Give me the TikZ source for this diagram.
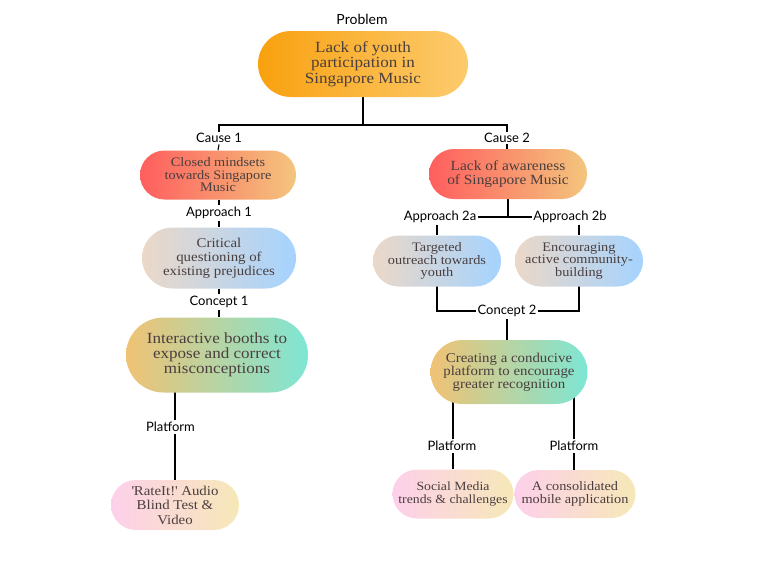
\documentclass[tikz,border=0pt]{standalone}
\usepackage{fontspec}
\setmainfont{Liberation Serif}[FakeStretch=1.1]
\newfontfamily\labfont{Lato}
\usetikzlibrary{backgrounds}
\definecolor{txt}{HTML}{4A3E3E}
\definecolor{orL}{HTML}{F9A10F}\definecolor{orR}{HTML}{FCCB6E}
\definecolor{rdL}{HTML}{FF5E5E}\definecolor{rdR}{HTML}{F3C57D}
\definecolor{blL}{HTML}{EBD8C8}\definecolor{blR}{HTML}{A5D3FF}
\definecolor{tlL}{HTML}{F0C274}\definecolor{tlR}{HTML}{7DE6D4}
\definecolor{pkL}{HTML}{FDD0EA}\definecolor{pkR}{HTML}{F6E8B8}
\tikzset{
  pill/.style={rectangle, inner sep=0pt, align=center, text=txt},
  gorange/.style={left color=orL, right color=orR},
  gred/.style={left color=rdL, right color=rdR},
  gblue/.style={left color=blL, right color=blR},
  gteal/.style={left color=tlL, right color=tlR},
  gpink/.style={left color=pkL, right color=pkR},
  lab/.style={inner sep=1.5pt, font=\labfont\fontsize{13}{15}\selectfont, text=black},
  conn/.style={draw=black, line width=1.1pt},
}
\begin{document}
\begin{tikzpicture}[x=1pt,y=-1pt]
\useasboundingbox (0,0) rectangle (768,576);
% labels
\node[lab, font=\labfont\fontsize{14}{16}\selectfont] (plab0) at (362,19) {Problem};
\node[lab] (c1lab) at (219,138) {Cause 1};
\node[lab] (c2lab) at (507,138) {Cause 2};
\node[lab] (a1lab) at (219,213) {Approach 1};
\node[lab] (a2alab) at (440,217) {Approach 2a};
\node[lab] (a2blab) at (570,217) {Approach 2b};
\node[lab] (k1lab) at (219,302) {Concept 1};
\node[lab] (k2lab) at (507,311) {Concept 2};
\node[lab] (pl1) at (170.5,427) {Platform};
\node[lab] (pl2) at (452,446) {Platform};
\node[lab] (pl3) at (574,446) {Platform};
% boxes
\node[pill, gorange, minimum width=210pt, minimum height=66pt, rounded corners=33pt,
  font=\fontsize{15.5}{15.5}\selectfont] (prob) at (363,64)
  {Lack of youth\\participation in\\Singapore Music};
\node[pill, gred, minimum width=156pt, minimum height=49pt, rounded corners=24.5pt,
  font=\fontsize{13}{12.5}\selectfont] (cause1) at (218,175)
  {Closed mindsets\\towards Singapore\\Music};
\node[pill, gred, minimum width=158pt, minimum height=50pt, rounded corners=25pt,
  font=\fontsize{14}{14}\selectfont] (cause2) at (508,174)
  {Lack of awareness\\of Singapore Music};
\node[pill, gblue, minimum width=154pt, minimum height=61pt, rounded corners=30.5pt,
  font=\fontsize{13.5}{14}\selectfont] (crit) at (219,258)
  {Critical\\questioning of\\existing prejudices};
\node[pill, gteal, minimum width=182pt, minimum height=75pt, rounded corners=37.5pt,
  font=\fontsize{15.5}{15}\selectfont] (booth) at (217,355)
  {Interactive booths to\\expose and correct\\misconceptions};
\node[pill, gpink, minimum width=128pt, minimum height=50pt, rounded corners=25pt,
  font=\fontsize{13.5}{14.5}\selectfont] (rate) at (175,505)
  {\textquotesingle RateIt!\textquotesingle\ Audio\\Blind Test \&\\Video};
\node[pill, gblue, minimum width=128pt, minimum height=51pt, rounded corners=25.5pt,
  font=\fontsize{13}{12.5}\selectfont] (target) at (437,261)
  {Targeted\\outreach towards\\youth};
\node[pill, gblue, minimum width=128pt, minimum height=51pt, rounded corners=25.5pt,
  font=\fontsize{13}{12.5}\selectfont] (enc) at (579,261)
  {Encouraging\\active community-\\building};
\node[pill, gteal, minimum width=157pt, minimum height=64pt, rounded corners=32pt,
  font=\fontsize{13.5}{13}\selectfont] (creat) at (509,372)
  {Creating a conducive\\platform to encourage\\greater recognition};
\node[pill, gpink, minimum width=121pt, minimum height=49pt, rounded corners=24.5pt,
  font=\fontsize{12.5}{12.5}\selectfont] (social) at (453,494)
  {Social Media\\trends \& challenges};
\node[pill, gpink, minimum width=121pt, minimum height=48pt, rounded corners=24pt,
  font=\fontsize{13}{12.5}\selectfont] (cons) at (575,494)
  {A consolidated\\mobile application};
% connectors
\begin{scope}[on background layer]
\coordinate (j1) at (363,125);
\draw[conn] (prob.south) -- (j1);
\draw[conn] (c1lab.north) |- (j1) -| (c2lab.north);
\draw[conn] (c1lab.south) -- (cause1.north);
\draw[conn] (c2lab.south) -- (c2lab.south |- cause2.north);
\draw[conn] (cause1.south -| a1lab.north) -- (a1lab.north);
\draw[conn] (a1lab.south) -- (crit.north);
\draw[conn] (crit.south) -- (k1lab.north);
\draw[conn] (k1lab.south) -- (booth.north -| k1lab.south);
\draw[conn] (pl1.north -| rate.north) -- (booth.center -| rate.north);
\draw[conn] (rate.north) -- (pl1.south -| rate.north);
\coordinate (j2) at (cause2.south |- a2alab.east);
\draw[conn] (j2 |- cause2.south) -- (j2);
\draw[conn] (a2alab.east) -- (a2blab.west);
\draw[conn] (a2alab.south -| target.north) -- (target.north);
\draw[conn] (a2blab.south -| enc.north) -- (enc.north);
\draw[conn] (target.center) |- (k2lab.west);
\draw[conn] (enc.center) |- (k2lab.east);
\draw[conn] (k2lab.south) -- (k2lab.south |- creat.north);
\draw[conn] (pl2.north -| social.north) -- (creat.center -| social.north);
\draw[conn] (social.north) -- (pl2.south -| social.north);
\draw[conn] (pl3.north) -- (creat.center -| pl3.north);
\draw[conn] (cons.north -| pl3.south) -- (pl3.south);
\end{scope}
\end{tikzpicture}
\end{document}
